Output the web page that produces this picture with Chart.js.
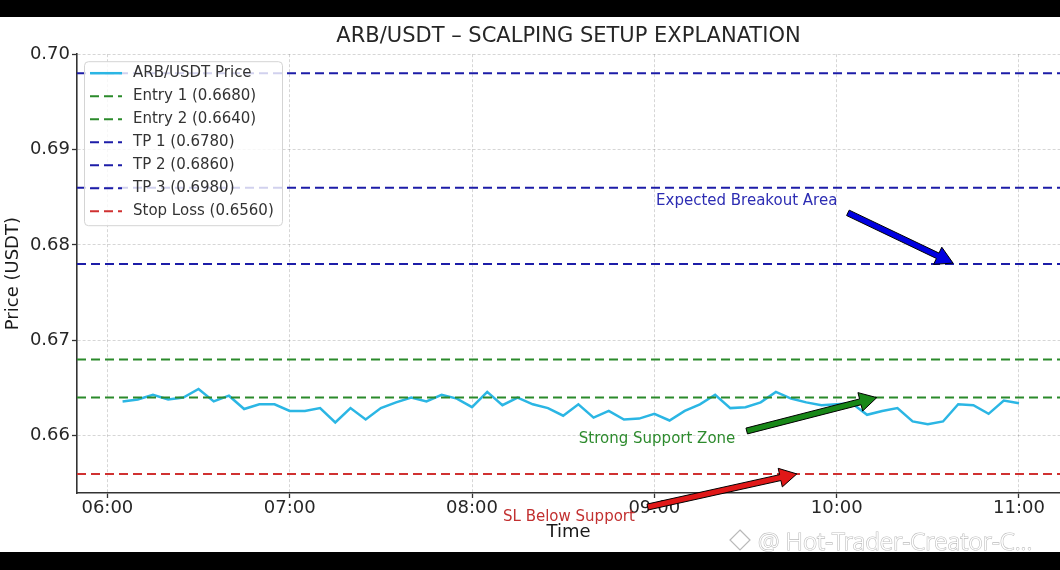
<!DOCTYPE html>
<html><head><meta charset="utf-8">
<script src="https://cdn.jsdelivr.net/npm/chart.js@4.4.0/dist/chart.umd.min.js"></script>
<style>html,body{margin:0;padding:0;background:#000;overflow:hidden}#wrap{width:1060px;height:570px;position:relative}</style>
</head><body><div id="wrap"><canvas id="c" width="1060" height="570"></canvas></div>
<script>
// ---- data ----
const times = ['06:05','06:10','06:15','06:20','06:25','06:30','06:35','06:40','06:45','06:50','06:55','07:00',
  '07:05','07:10','07:15','07:20','07:25','07:30','07:35','07:40','07:45','07:50','07:55','08:00',
  '08:05','08:10','08:15','08:20','08:25','08:30','08:35','08:40','08:45','08:50','08:55','09:00',
  '09:05','09:10','09:15','09:20','09:25','09:30','09:35','09:40','09:45','09:50','09:55','10:00',
  '10:05','10:10','10:15','10:20','10:25','10:30','10:35','10:40','10:45','10:50','10:55','11:00'];
const prices = [0.6636,0.6638,0.6643,0.6638,0.6640,0.6649,0.6636,0.6642,0.6628,0.6633,0.6633,0.6626,
  0.6626,0.6629,0.6614,0.6629,0.6617,0.6629,0.6635,0.6640,0.6636,0.6643,0.6639,0.6630,
  0.6646,0.6632,0.6640,0.6633,0.6629,0.6621,0.6633,0.6619,0.6626,0.6617,0.6618,0.6623,
  0.6616,0.6626,0.6633,0.6643,0.6629,0.6630,0.6635,0.6646,0.6639,0.6635,0.6632,0.6633,
  0.6634,0.6622,0.6626,0.6629,0.6615,0.6612,0.6615,0.6633,0.6632,0.6623,0.6637,0.6634];
const priceLabel = 'ARB/USDT Price';
const levelNames = ['Entry 1 (0.6680)','Entry 2 (0.6640)','TP 1 (0.6780)','TP 2 (0.6860)','TP 3 (0.6980)','Stop Loss (0.6560)'];
const levelValues = [0.668,0.664,0.678,0.686,0.698,0.656];
const xTickLabels = ['06:00','07:00','08:00','09:00','10:00','11:00'];
const yTickValues = [0.66,0.67,0.68,0.69,0.70];
const xLimits = ['05:50','11:13.5'];
const yLimits = [0.654,0.700];
// annotations (data units: minutes since midnight / price)
const annLabels = ['Expected Breakout Area','Strong Support Zone','SL Below Support'];
const annTextX = [570.4,540.9,511.9];
const annTextY = [0.6846,0.6596,0.6515];
const annFromX = [603.7,570.4,537.8];
const annFromY = [0.68337,0.6605,0.65253];
const annToX = [638.3,613.2,586.9];
const annToY = [0.6781,0.6640,0.6560];

// ---- helpers ----
function toMin(t){const p=t.split(':');return (+p[0])*60+(+p[1]);}
function fmt(v){const h=Math.floor(v/60),m=Math.round(v-h*60);return String(h).padStart(2,'0')+':'+String(m).padStart(2,'0');}
const xMin=toMin(xLimits[0]), xMax=toMin(xLimits[1]);

const levelColors=['#2b8a2b','#2b8a2b','#1d1da8','#1d1da8','#1d1da8','#d03131'];
const annTextColors=['#2d2db3','#2e8b2e','#c23030'];
const annFaceColors=['#0000e0','#188818','#e01818'];
const FONT='"DejaVu Sans", sans-serif';

const datasets=[{
  label:priceLabel,
  data:times.map((t,i)=>({x:toMin(t),y:prices[i]})),
  borderColor:'#2bb6e4',borderWidth:2.5,pointRadius:0,tension:0,order:1,fill:false
}];
levelNames.forEach((n,i)=>datasets.push({
  label:n,data:[{x:xMin,y:levelValues[i]},{x:xMax,y:levelValues[i]}],
  borderColor:levelColors[i],borderWidth:2,borderDash:[9,5],pointRadius:0,order:0,fill:false
}));

function arrow(ctx,x1,y1,x2,y2,face){
  const dx=x2-x1,dy=y2-y1,L=Math.hypot(dx,dy),ux=dx/L,uy=dy/L,nx=-uy,ny=ux;
  const sw=3,hw=9.5,hl=17;
  const bx=x2-ux*hl,by=y2-uy*hl;
  ctx.beginPath();
  ctx.moveTo(x1+nx*sw,y1+ny*sw);
  ctx.lineTo(bx+nx*sw,by+ny*sw);
  ctx.lineTo(bx+nx*hw,by+ny*hw);
  ctx.lineTo(x2,y2);
  ctx.lineTo(bx-nx*hw,by-ny*hw);
  ctx.lineTo(bx-nx*sw,by-ny*sw);
  ctx.lineTo(x1-nx*sw,y1-ny*sw);
  ctx.closePath();
  ctx.fillStyle=face;ctx.fill();
  ctx.lineWidth=1;ctx.strokeStyle='#000';ctx.stroke();
}

const deco={
  id:'deco',
  beforeDraw(chart){const c=chart.ctx;c.save();c.fillStyle='#fff';c.fillRect(0,0,chart.width,chart.height);c.restore();},
  afterDatasetsDraw(chart){
    const c=chart.ctx,ca=chart.chartArea,xs=chart.scales.x,ys=chart.scales.y;
    // legend
    c.save();
    const bx=ca.left+7,by=ca.top+7,bw=198,bh=164;
    c.beginPath();c.roundRect(bx+0.5,by+0.5,bw,bh,4);
    c.fillStyle='rgba(255,255,255,0.8)';c.fill();
    c.strokeStyle='#d4d4d4';c.lineWidth=1;c.stroke();
    chart.data.datasets.forEach((d,i)=>{
      const yy=by+12+i*23;
      c.beginPath();c.setLineDash(d.borderDash||[]);
      c.strokeStyle=d.borderColor;c.lineWidth=d.borderWidth;
      c.moveTo(bx+6,yy);c.lineTo(bx+38,yy);c.stroke();
      c.setLineDash([]);
      c.fillStyle='#333';c.font='15px '+FONT;c.textAlign='left';c.textBaseline='middle';
      c.fillText(d.label,bx+49,yy);
    });
    // annotations
    annLabels.forEach((t,i)=>{
      arrow(c,xs.getPixelForValue(annFromX[i]),ys.getPixelForValue(annFromY[i]),
              xs.getPixelForValue(annToX[i]),ys.getPixelForValue(annToY[i]),annFaceColors[i]);
    });
    annLabels.forEach((t,i)=>{
      c.fillStyle=annTextColors[i];c.font='15px '+FONT;c.textAlign='center';c.textBaseline='middle';
      c.fillText(t,xs.getPixelForValue(annTextX[i]),ys.getPixelForValue(annTextY[i]));
    });
    c.restore();
  },
  afterDraw(chart){
    const c=chart.ctx;c.save();
    // watermark
    c.font='300 24px "Noto Sans", sans-serif';c.textAlign='left';c.textBaseline='alphabetic';
    c.lineWidth=1.2;c.strokeStyle='rgba(0,0,0,0.28)';c.fillStyle='#fff';
    c.strokeText('@ Hot-Trader-Creator-C...',758,550);c.fillText('@ Hot-Trader-Creator-C...',758,550);
    c.beginPath();c.moveTo(740,530);c.lineTo(750,540);c.lineTo(740,550);c.lineTo(730,540);c.closePath();c.stroke();
    // black bands
    c.fillStyle='#000';c.fillRect(0,0,chart.width,17);c.fillRect(0,552,chart.width,chart.height-552);
    c.restore();
  }
};

new Chart(document.getElementById('c'),{
  type:'line',
  data:{datasets},
  options:{
    responsive:false,animation:false,devicePixelRatio:1,
    layout:{padding:{left:0,right:0,top:0,bottom:17}},
    plugins:{
      legend:{display:false},tooltip:{enabled:false},
      title:{display:true,fullSize:false,text:'ARB/USDT – SCALPING SETUP EXPLANATION',color:'#262626',
        font:{family:FONT,size:21,weight:'normal'},padding:{top:24,bottom:5}}
    },
    scales:{
      x:{type:'linear',min:xMin,max:xMax,
        afterBuildTicks:s=>{s.ticks=xTickLabels.map(t=>({value:toMin(t)}));},
        afterFit:s=>{s.height=60;},
        ticks:{callback:v=>fmt(v),font:{family:FONT,size:18},color:'#262626',padding:0,maxRotation:0,autoSkip:false},
        grid:{color:'rgba(0,0,0,0.16)',lineWidth:1,tickLength:5,tickColor:'#333',tickWidth:1.3},
        border:{display:true,color:'#333',width:1.6,dash:[3,2]},
        title:{display:true,text:'Time',font:{family:FONT,size:18},color:'#1a1a1a',padding:{top:0,bottom:10}}
      },
      y:{type:'linear',min:yLimits[0],max:yLimits[1],
        afterBuildTicks:s=>{s.ticks=yTickValues.map(v=>({value:v}));},
        afterFit:s=>{s.width=77;},
        ticks:{callback:v=>v.toFixed(2),font:{family:FONT,size:18},color:'#262626',padding:2,autoSkip:false},
        grid:{color:'rgba(0,0,0,0.16)',lineWidth:1,tickLength:5,tickColor:'#333',tickWidth:1.3},
        border:{display:true,color:'#333',width:1.6,dash:[3,2]},
        title:{display:true,text:'Price (USDT)',font:{family:FONT,size:18},color:'#1a1a1a',padding:{top:3,bottom:0}}
      }
    }
  },
  plugins:[deco]
});
</script></body></html>
